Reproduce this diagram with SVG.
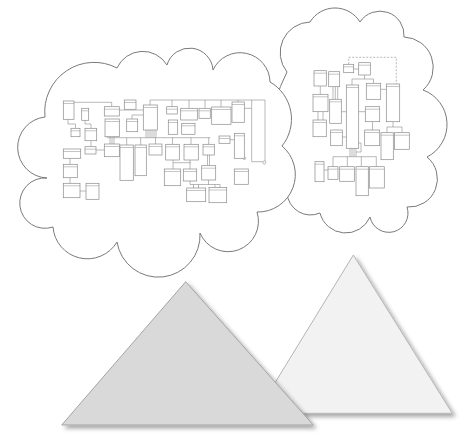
<svg xmlns="http://www.w3.org/2000/svg" width="474" height="447" viewBox="0 0 474 447">
<style>
.cloud{fill:#fff;stroke:#7a7a7a;stroke-width:1}
.n rect{fill:#fff;stroke:#8a8a8a;stroke-width:.7}
.n path{fill:none;stroke:#8a8a8a;stroke-width:.5}
.con path{fill:none;stroke:#8a8a8a;stroke-width:.6}
.con circle{fill:#fff;stroke:#8a8a8a;stroke-width:.6}
.dash{stroke-dasharray:2 1.5}
</style>
<defs>
<filter id="sh" x="-10%" y="-10%" width="125%" height="125%">
<feDropShadow dx="3" dy="3" stdDeviation="2" flood-color="#000" flood-opacity="0.35"/>
</filter>
</defs>
<rect width="474" height="447" fill="#fff"/>

<g id="cloud2">
<path class="cloud" d="M287 193 A129.5 129.5 0 0 1 287 72 A30.7 30.7 0 0 1 310 22 A29.3 29.3 0 0 1 360 22 A24 24 0 0 1 404 37 A30.3 30.3 0 0 1 423 90 A36.6 36.6 0 0 1 427 157 A28.2 28.2 0 0 1 407 207 A19.2 19.2 0 1 1 370 217 A26.5 26.5 0 0 1 320 213 A23.6 23.6 0 0 1 287 193 Z"/>
<g class="con">
<path class="dash" d="M348.7 64.3 V57.3 H396.3 V84"/>
<path d="M320.3 86 V94.3 M333 86.7 V99.3 M335.3 86.7 V99.3 M337.7 86.7 V99.3 M318 111.7 V120 M323 111.7 V120 M341.3 111.7 H346.3 M342.3 137 H346.3 M358.7 111.7 H365.3 M380.7 89.3 H386.3 M364.5 75 V79 M352 79 H373.5 V83.3 M352 79 V85 M353.7 69 H358.7 M372.5 121.7 V130 M393 121.7 V127 M387 127 H402 M387 127 V132.7 M402 127 V132.7 M350 148.3 V156.7 M352 148.3 V156.7 M354 148.3 V156.7 M356 148.3 V156.7 M358.7 143 H361 V152 H356 M333 156.7 H376.3 M333 156.7 V166.7 M347.3 156.7 V166.7 M361.3 156.7 V166.7 M376.3 156.7 V166.7 M324 170 H328"/>
</g>
<g class="n" id="c2a"><rect x="314" y="70.7" width="12.3" height="15.3"/><path d="M314 73.2 H326.3"/></g>
<g class="n" id="c2b"><rect x="328.7" y="71.7" width="11" height="15"/><path d="M328.7 74.2 H339.7"/></g>
<g class="n" id="c2c"><rect x="343.7" y="64.3" width="10" height="8.4"/><path d="M343.7 66.8 H353.7"/></g>
<g class="n" id="c2d"><rect x="358.7" y="62.7" width="11.6" height="12.3"/><path d="M358.7 65.2 H370.3"/></g>
<g class="n" id="c2e"><rect x="313" y="94.3" width="15" height="17.4"/><path d="M313 96.8 H328"/></g>
<g class="n" id="c2f"><rect x="329.7" y="99.3" width="11.6" height="24"/><path d="M329.7 101.8 H341.3"/></g>
<g class="n" id="c2g"><rect x="346.3" y="85" width="12.4" height="63.3"/><path d="M346.3 87.5 H358.7"/></g>
<g class="n" id="c2h"><rect x="366.3" y="83.3" width="14.4" height="16"/><path d="M366.3 85.8 H380.7"/></g>
<g class="n" id="c2i"><rect x="386.3" y="84" width="13.4" height="37.7"/><path d="M386.3 86.5 H399.7"/></g>
<g class="n" id="c2j"><rect x="365.3" y="106.7" width="14.4" height="15"/><path d="M365.3 109.2 H379.7"/></g>
<g class="n" id="c2k"><rect x="313" y="120" width="13.3" height="16.7"/><path d="M313 122.5 H326.3"/></g>
<g class="n" id="c2l"><rect x="330.7" y="130" width="11.6" height="15.7"/><path d="M330.7 132.5 H342.3"/></g>
<g class="n" id="c2m"><rect x="364.7" y="130" width="15" height="15.7"/><path d="M364.7 132.5 H379.7"/></g>
<g class="n" id="c2n"><rect x="381" y="132.7" width="12.3" height="27"/><path d="M381 135.2 H393.3"/></g>
<g class="n" id="c2o"><rect x="394.5" y="132.7" width="14.8" height="16.6"/><path d="M394.5 135.2 H409.3"/></g>
<g class="n" id="c2p"><rect x="315" y="161.7" width="9" height="20"/><path d="M315 164.2 H324"/></g>
<g class="n" id="c2q"><rect x="328" y="166.7" width="10" height="12.6"/><path d="M328 169.2 H338"/></g>
<g class="n" id="c2r"><rect x="339.7" y="166.7" width="14.6" height="14.6"/><path d="M339.7 169.2 H354.3"/></g>
<g class="n" id="c2s"><rect x="356" y="166.7" width="12.3" height="29"/><path d="M356 169.2 H368.3"/></g>
<g class="n" id="c2t"><rect x="369.3" y="166.7" width="15" height="21.3"/><path d="M369.3 169.2 H384.3"/></g>
</g>

<g id="cloud1">
<path class="cloud" d="M45 117 A49.4 49.4 0 0 1 117 68 A28.3 28.3 0 0 1 167 65 A23.5 23.5 0 0 1 213 70 A29.9 29.9 0 0 1 270 82 A42.8 42.8 0 0 1 282 146 A37.4 37.4 0 0 1 257 212 A30.4 30.4 0 0 1 200 233 A41.8 41.8 0 0 1 117 242 A34.5 34.5 0 0 1 53 227 A25.2 25.2 0 1 1 47 178 A30.6 30.6 0 0 1 45 117 Z"/>
<g class="con">
<path d="M74 102.3 H111.7 V106.7 M68 119.3 V124 H75.5 V128.3 M85 120.3 V124 H91 V128.3 M91 140.7 V146.7 M96 150 H104.3 M119.3 110 H143.3 M143.3 115 H132 V119 M110 136.7 V144 M114 136.7 V144 M146 130 V137.7 M148 130 V137.7 M150 130 V137.7 M152 130 V137.7 M154 130 V137.7 M156 130 V137.7 M106.7 137.7 H210.3 M112 137.7 V144 M126.7 137.7 V145 M140.7 137.7 V145 M155.5 137.7 V144 M172.5 137.7 V144.3 M191 137.7 V144.3 M208.7 137.7 V144.3 M150 105 V100 H265 M172 100 V106.7 M189 100 V108.3 M205 100 V108.3 M221 100 V107 M238 100 V102 M251.7 100 V161.7 H262.8 M265 100 V161 M244.3 108.3 H251.7 M230 139.7 H234.3 M173 160 V169 M190 160 V169 M173 162.7 H191 M207.5 155 V165.7 M209.5 155 V165.7 M190 181 V184.5 H220 M193.5 184.5 V188 M198.5 184.5 V188 M208.5 180 V184.5 M215 184.5 V187.5 M220 184.5 V187.5 M70 158.3 V164.3 M70 177.7 V183.3 M80 191 H86"/>
<circle cx="264.3" cy="162.5" r="1.5"/>
<circle cx="244.3" cy="158.3" r="1.3"/>
</g>
<g class="n" id="c1n1"><rect x="63.3" y="101" width="10.7" height="18.3"/><path d="M63.3 103.5 H74"/></g>
<g class="n" id="c1n2"><rect x="81.7" y="108.3" width="7" height="12"/><path d="M81.7 110.8 H88.7"/></g>
<g class="n" id="c1n3"><rect x="71" y="128.3" width="9" height="8.4"/><path d="M71 130.8 H80"/></g>
<g class="n" id="c1n4"><rect x="85" y="128.3" width="11.7" height="12.4"/><path d="M85 130.8 H96.7"/></g>
<g class="n" id="c1n5"><rect x="85" y="146.7" width="11" height="7.3"/><path d="M85 149.2 H96"/></g>
<g class="n" id="c1n6"><rect x="104.3" y="106.7" width="15" height="9.3"/><path d="M104.3 109.2 H119.3"/></g>
<g class="n" id="c1n7"><rect x="124.3" y="100" width="11.7" height="9.3"/><path d="M124.3 102.5 H136"/></g>
<g class="n" id="c1n8"><rect x="143.3" y="105" width="14" height="25"/><path d="M143.3 107.5 H157.3"/></g>
<g class="n" id="c1n9"><rect x="105" y="119" width="14.3" height="17.7"/><path d="M105 121.5 H119.3"/></g>
<g class="n" id="c1n10"><rect x="126.7" y="119" width="11" height="12.7"/><path d="M126.7 121.5 H137.7"/></g>
<g class="n" id="c1n11"><rect x="166.7" y="106.7" width="10.6" height="7.3"/><path d="M166.7 109.2 H177.3"/></g>
<g class="n" id="c1n12"><rect x="180.7" y="108.3" width="16.6" height="11.7"/><path d="M180.7 110.8 H197.3"/></g>
<g class="n" id="c1n13"><rect x="199" y="108.3" width="11.3" height="10"/><path d="M199 110.8 H210.3"/></g>
<g class="n" id="c1n14"><rect x="211.7" y="107" width="19.3" height="17.3"/><path d="M211.7 109.5 H231"/></g>
<g class="n" id="c1n15"><rect x="232" y="102" width="12.3" height="20.3"/><path d="M232 104.5 H244.3"/></g>
<g class="n" id="c1n16"><rect x="168.3" y="120" width="9.4" height="14.3"/><path d="M168.3 122.5 H177.7"/></g>
<g class="n" id="c1n17"><rect x="181.7" y="123.3" width="13.3" height="11"/><path d="M181.7 125.8 H195"/></g>
<g class="n" id="c1n18"><rect x="219" y="136" width="11" height="7.3"/><path d="M219 138.5 H230"/></g>
<g class="n" id="c1n19"><rect x="234.3" y="133.3" width="10" height="25"/><path d="M234.3 135.8 H244.3"/></g>
<g class="n" id="c1n21"><rect x="63.3" y="149" width="17.4" height="9.3"/><path d="M63.3 151.5 H80.7"/></g>
<g class="n" id="c1n22"><rect x="63.3" y="164.3" width="14" height="13.4"/><path d="M63.3 166.8 H77.3"/></g>
<g class="n" id="c1n23"><rect x="63.3" y="183.3" width="16.7" height="14.4"/><path d="M63.3 185.8 H80"/></g>
<g class="n" id="c1n24"><rect x="86" y="183.3" width="13" height="16"/><path d="M86 185.8 H99"/></g>
<g class="n" id="c1n25"><rect x="104.3" y="144" width="15" height="12.7"/><path d="M104.3 146.5 H119.3"/></g>
<g class="n" id="c1n26"><rect x="120" y="145" width="13.3" height="35.3"/><path d="M120 147.5 H133.3"/></g>
<g class="n" id="c1n27"><rect x="135" y="145" width="11.3" height="30.7"/><path d="M135 147.5 H146.3"/></g>
<g class="n" id="c1n28"><rect x="149" y="144" width="13" height="11"/><path d="M149 146.5 H162"/></g>
<g class="n" id="c1n29"><rect x="165.7" y="144.3" width="13.6" height="15.7"/><path d="M165.7 146.8 H179.3"/></g>
<g class="n" id="c1n30"><rect x="184" y="144.3" width="14.3" height="15.7"/><path d="M184 146.8 H198.3"/></g>
<g class="n" id="c1n31"><rect x="203" y="144.3" width="11.3" height="10.7"/><path d="M203 146.8 H214.3"/></g>
<g class="n" id="c1n32"><rect x="164.3" y="169" width="16.4" height="16.7"/><path d="M164.3 171.5 H180.7"/></g>
<g class="n" id="c1n33"><rect x="183.3" y="169" width="13.4" height="12"/><path d="M183.3 171.5 H196.7"/></g>
<g class="n" id="c1n34"><rect x="201.7" y="165.7" width="14" height="14.3"/><path d="M201.7 168.2 H215.7"/></g>
<g class="n" id="c1n35"><rect x="186.7" y="188" width="19" height="13.7"/><path d="M186.7 190.5 H205.7"/></g>
<g class="n" id="c1n36"><rect x="209" y="187.5" width="17.7" height="15.2"/><path d="M209 190 H226.7"/></g>
<g class="n" id="c1n37"><rect x="234.3" y="169" width="14" height="15.3"/><path d="M234.3 171.5 H248.3"/></g>
</g>

<g id="triangle-back">
<path d="M353.3 255 L452.3 413.3 L256.3 413.3 Z" fill="#f2f2f2" stroke="#b4b4b4" stroke-width="1" filter="url(#sh)"/>
</g>
<g id="triangle-front">
<path d="M185.7 281.7 L313.3 425 L61.7 425 Z" fill="#d9d9d9" stroke="#a3a3a3" stroke-width="1" filter="url(#sh)"/>
</g>
</svg>
